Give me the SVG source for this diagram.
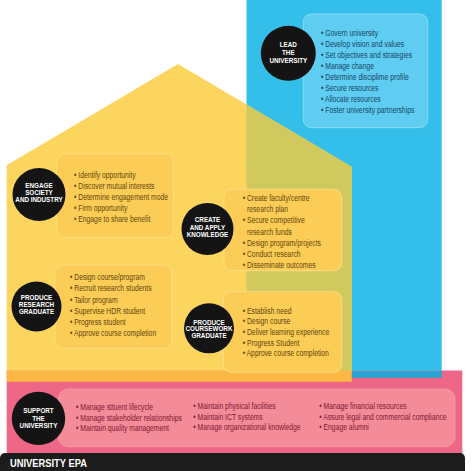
<svg xmlns="http://www.w3.org/2000/svg" width="474" height="471" viewBox="0 0 474 471">
<style>
.circ{fill:#141414}
.cl{font-family:"Liberation Sans",Arial,sans-serif;font-weight:bold;font-size:6.3px;fill:#ffffff;text-anchor:middle}
.t{font-family:"Liberation Sans",Arial,sans-serif;font-size:9px}
.ty{fill:#64460f}
.tb{fill:#1a4565}
.tp{fill:#7e1934}
.by{fill:#fbcc56;stroke:#fde08e;stroke-width:0.8}
.bb{fill:#5ecdf1;stroke:#98dff6;stroke-width:0.8}
.bp{fill:#f38b98;stroke:#f59fab;stroke-width:0.8}
</style>
<rect width="474" height="471" fill="#ffffff"/>
<g id="background">
<rect x="246.5" y="0" width="195.2" height="370.5" fill="#33bfea"/>
<rect x="6.7" y="370.5" width="455.6" height="85" fill="#ee6787"/>
<rect x="351.7" y="370.5" width="90" height="7.3" fill="#2aa4d2"/>
<polygon points="6.7,165.3 178,64 351.7,166.7 351.7,370.5 6.7,370.5" fill="#fcd55e"/>
<polygon points="246.5,104.5 351.7,166.7 351.7,370.5 246.5,370.5" fill="#d0ca5e"/>
<rect x="6.7" y="370.5" width="345" height="11.3" fill="#fbb845"/>
</g>
<g id="lead">
<rect class="bb" x="303.3" y="14" width="124.4" height="113.7" rx="8"/>
<text class="t tb" transform="translate(321,36.3) scale(0.755,1)"><tspan x="0" y="0">• Govern university</tspan><tspan x="0" y="11">• Develop vision and values</tspan><tspan x="0" y="22">• Set objectives and strategies</tspan><tspan x="0" y="33">• Manage change</tspan><tspan x="0" y="44">• Determine disciplime profile</tspan><tspan x="0" y="55">• Secure resources</tspan><tspan x="0" y="66">• Allocate resources</tspan><tspan x="0" y="77">• Foster university partnerships</tspan></text>
<circle class="circ" cx="288.3" cy="53.3" r="27.5"/>
<text class="cl"><tspan x="288.3" y="47.4">LEAD</tspan><tspan x="288.3" y="55.1">THE</tspan><tspan x="288.3" y="62.9">UNIVERSITY</tspan></text>
</g>
<g id="engage">
<rect class="by" x="56.7" y="154" width="116.6" height="83.3" rx="8"/>
<text class="t ty" transform="translate(74,177.7) scale(0.755,1)"><tspan x="0" y="0">• Identify opportunity</tspan><tspan x="0" y="11.2">• Discover mutual interests</tspan><tspan x="0" y="22.4">• Determine engagement mode</tspan><tspan x="0" y="33.6">• Firm opportunity</tspan><tspan x="0" y="44.8">• Engage to share benefit</tspan></text>
<circle class="circ" cx="39" cy="194.5" r="26.5"/>
<text class="cl"><tspan x="39" y="188">ENGAGE</tspan><tspan x="39" y="195.2">SOCIETY</tspan><tspan x="39" y="202.4">AND INDUSTRY</tspan></text>
</g>
<g id="create">
<rect class="by" x="224" y="189.3" width="117.7" height="81.4" rx="8"/>
<text class="t ty" transform="translate(242.7,201.3) scale(0.755,1)"><tspan x="0" y="0">• Create faculty/centre</tspan><tspan x="5.6" y="11.1">research plan</tspan><tspan x="0" y="22.2">• Secure competitive</tspan><tspan x="5.6" y="33.3">research funds</tspan><tspan x="0" y="44.4">• Design program/projects</tspan><tspan x="0" y="55.5">• Conduct research</tspan><tspan x="0" y="66.6">• Disseminate outcomes</tspan></text>
<circle class="circ" cx="207.5" cy="229" r="26"/>
<text class="cl"><tspan x="207.5" y="222.3">CREATE</tspan><tspan x="207.5" y="229.5">AND APPLY</tspan><tspan x="207.5" y="236.7">KNOWLEDGE</tspan></text>
</g>
<g id="research">
<rect class="by" x="55" y="265" width="116.7" height="83.3" rx="8"/>
<text class="t ty" transform="translate(70,280.3) scale(0.755,1)"><tspan x="0" y="0">• Design course/program</tspan><tspan x="0" y="11.2">• Recruit research students</tspan><tspan x="0" y="22.4">• Tailor program</tspan><tspan x="0" y="33.6">• Supervise HDR student</tspan><tspan x="0" y="44.8">• Progress student</tspan><tspan x="0" y="56">• Approve course completion</tspan></text>
<circle class="circ" cx="36.5" cy="306.5" r="25"/>
<text class="cl"><tspan x="36.5" y="300">PRODUCE</tspan><tspan x="36.5" y="307">RESEARCH</tspan><tspan x="36.5" y="314">GRADUATE</tspan></text>
</g>
<g id="coursework">
<rect class="by" x="223.5" y="291.7" width="118.2" height="80.6" rx="8"/>
<text class="t ty" transform="translate(242.7,313.7) scale(0.755,1)"><tspan x="0" y="0">• Establish need</tspan><tspan x="0" y="10.7">• Design course</tspan><tspan x="0" y="21.4">• Deliver learning experience</tspan><tspan x="0" y="32.1">• Progress Student</tspan><tspan x="0" y="42.8">• Approve course completion</tspan></text>
<circle class="circ" cx="209" cy="328.3" r="25"/>
<text class="cl"><tspan x="209" y="324.6">PRODUCE</tspan><tspan x="209" y="331.1">COURSEWORK</tspan><tspan x="209" y="337.6">GRADUATE</tspan></text>
</g>
<g id="support">
<rect class="bp" x="58.3" y="389" width="396.7" height="57.7" rx="10"/>
<text class="t tp" transform="translate(76,410.3) scale(0.755,1)"><tspan x="0" y="0">• Manage sttuent lifecycle</tspan><tspan x="0" y="10.5">• Manage stakeholder relationships</tspan><tspan x="0" y="21">• Maintain quality management</tspan></text>
<text class="t tp" transform="translate(193.3,409) scale(0.755,1)"><tspan x="0" y="0">• Maintain physical facilities</tspan><tspan x="0" y="10.6">• Maintain ICT systems</tspan><tspan x="0" y="21.2">• Manage organizational knowledge</tspan></text>
<text class="t tp" transform="translate(319.3,409) scale(0.755,1)"><tspan x="0" y="0">• Manage financial resources</tspan><tspan x="0" y="10.6">• Assure legal and commercial compliance</tspan><tspan x="0" y="21.2">• Engage alumni</tspan></text>
<circle class="circ" cx="38.5" cy="418.4" r="26.7"/>
<text class="cl"><tspan x="38.5" y="413.4">SUPPORT</tspan><tspan x="38.5" y="420.7">THE</tspan><tspan x="38.5" y="428">UNIVERSITY</tspan></text>
</g>
<g id="epa">
<rect x="0" y="453" width="465" height="24" rx="5" fill="#1c1c1c"/>
<text x="10" y="466.5" font-family="'Liberation Sans',Arial,sans-serif" font-weight="bold" font-size="10.5" fill="#ffffff" textLength="77" lengthAdjust="spacingAndGlyphs">UNIVERSITY EPA</text>
</g>
</svg>
